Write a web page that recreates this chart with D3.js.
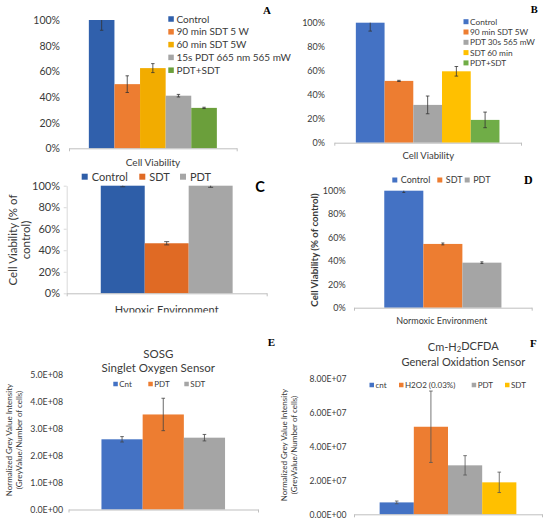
<!DOCTYPE html>
<html><head><meta charset="utf-8">
<script src="https://cdn.jsdelivr.net/npm/d3@7"></script>
<style>body{margin:0;background:#fff} svg{display:block}</style>
</head><body>
<svg id="c" width="550" height="522"></svg>
<script>
// ---------- DATA ----------
const seriesA = ["Control", "90 min SDT 5 W", "60 min SDT 5W", "15s PDT 665 nm 565 mW", "PDT+SDT"];
const valuesA = [100, 50, 62.5, 41, 31.5];
const errorsA = [8, 6.5, 3.5, 1, 0.5];
const ticksA = [0, 20, 40, 60, 80, 100];
const tickLabelsA = ["0%", "20%", "40%", "60%", "80%", "100%"];

const seriesB = ["Control", "90 min SDT 5W", "PDT 30s 565 mW", "SDT 60 min", "PDT+SDT"];
const valuesB = [100, 51.5, 31.5, 59.5, 19];
const errorsB = [7, 0.5, 7.4, 4, 6.5];
const ticksB = [0, 20, 40, 60, 80, 100];
const tickLabelsB = ["0%", "20%", "40%", "60%", "80%", "100%"];

const seriesC = ["Control", "SDT", "PDT"];
const valuesC = [100, 46.5, 100];
const errorsC = [1, 1.5, 1.5];
const ticksC = [0, 20, 40, 60, 80, 100];
const tickLabelsC = ["0%", "20%", "40%", "60%", "80%", "100%"];

const seriesD = ["Control", "SDT", "PDT"];
const valuesD = [100, 54.5, 38.5];
const errorsD = [1.5, 0.8, 0.7];
const ticksD = [0, 20, 40, 60, 80, 100];
const tickLabelsD = ["0%", "20%", "40%", "60%", "80%", "100%"];

const seriesE = ["Cnt", "PDT", "SDT"];
const valuesE = [2.6e8, 3.52e8, 2.66e8];
const errorsE = [0.1e8, 0.6e8, 0.12e8];
const ticksE = [0, 1e8, 2e8, 3e8, 4e8, 5e8];
const tickLabelsE = ["0.0E+00", "1.0E+08", "2.0E+08", "3.0E+08", "4.0E+08", "5.0E+08"];

const seriesF = ["cnt", "H2O2 (0.03%)", "PDT", "SDT"];
const valuesF = [0.7e7, 5.15e7, 2.88e7, 1.88e7];
const errorsF = [0.08e7, 2.1e7, 0.57e7, 0.6e7];
const ticksF = [0, 2e7, 4e7, 6e7, 8e7];
const tickLabelsF = ["0.00E+00", "2.00E+07", "4.00E+07", "6.00E+07", "8.00E+07"];

// ---------- STYLE / LAYOUT ----------
const FONT = "Lato, 'Open Sans', sans-serif";
const SERIF = "'Liberation Serif', 'DejaVu Serif', serif";
const TXT = "#3a3a3a";

const panels = [
  { series: seriesA, values: valuesA, errors: errorsA, ticks: ticksA, tickLabels: tickLabelsA, ymax: 100,
    colors: ["#3060AC", "#ED7D31", "#F2AC00", "#A5A5A5", "#6B9F3B"],
    ax0: 69, ax1: 236.7, base: 148.3, top: 20, gap: 1.55, labelRight: 60, tickFont: 10.5,
    errColor: "#333", capW: 3.4,
    legend: { type: "v", sqX: 168.3, size: 5.5, textX: 176.5, y0: 19, dy: 12.8, font: 10 },
    cat: { text: "Cell Viability", x: 153, y: 162, font: 10 },
    letter: { text: "A", x: 267, y: 10.5, font: 11, serif: true } },
  { series: seriesB, values: valuesB, errors: errorsB, ticks: ticksB, tickLabels: tickLabelsB, ymax: 100,
    colors: ["#4472C4", "#ED7D31", "#A5A5A5", "#FFC000", "#70AD47"],
    ax0: 334.3, ax1: 521, base: 142.7, top: 22.7, gap: 1.5, labelRight: 325, tickFont: 9,
    errColor: "#333", capW: 3.6,
    legend: { type: "v", sqX: 463.5, size: 5, textX: 470, y0: 21.7, dy: 10.3, font: 8.3 },
    cat: { text: "Cell Viability", x: 428.3, y: 155.7, font: 9.5 },
    letter: { text: "B", x: 534.3, y: 9.8, font: 10.5, serif: true } },
  { series: seriesC, values: valuesC, errors: errorsC, ticks: ticksC, tickLabels: tickLabelsC, ymax: 100,
    colors: ["#2E5EA8", "#E06A24", "#A6A6A6"],
    ax0: 66.7, ax1: 266.7, base: 293.3, top: 185.7, gap: 1.55, labelRight: 60, tickFont: 11,
    errColor: "#333", capW: 5, yAxisLine: true,
    legend: { type: "h", y: 176.7, xs: [81.7, 139.3, 180], size: 6, tOff: 10, font: 11 },
    cat: { text: "Hypoxic Environment", x: 166.7, y: 309.8, font: 11, clipY: 312.5 },
    yTitle: { lines: ["Cell Viability (% of", "control)"], xs: [12.7, 25.5], cy: 240, font: 11.5, bold: false },
    letter: { text: "C", x: 260, y: 187, font: 14.5, serif: false } },
  { series: seriesD, values: valuesD, errors: errorsD, ticks: ticksD, tickLabels: tickLabelsD, ymax: 100,
    colors: ["#4472C4", "#ED7D31", "#A5A5A5"],
    ax0: 354, ax1: 531.7, base: 307.7, top: 190.7, gap: 1.55, labelRight: 345.7, tickFont: 9,
    errColor: "#333", capW: 3,
    legend: { type: "h", y: 180, xs: [392.3, 437.3, 464.7], size: 5, tOff: 8.5, font: 9 },
    cat: { text: "Normoxic Environment", x: 441.7, y: 321, font: 9 },
    yTitle: { lines: ["Cell Viability (% of control)"], xs: [315], cy: 250, font: 9.7, bold: true },
    letter: { text: "D", x: 528.3, y: 179.5, font: 12, serif: true } },
  { series: seriesE, values: valuesE, errors: errorsE, ticks: ticksE, tickLabels: tickLabelsE, ymax: 5e8,
    colors: ["#4472C4", "#ED7D31", "#A5A5A5"],
    ax0: 68.5, ax1: 258, base: 509.5, top: 374.5, gap: 1.6, labelRight: 63, tickFont: 8.8,
    errColor: "#444", capW: 3.6,
    legend: { type: "h", y: 384, xs: [113.3, 148.3, 184.3], size: 4.5, tOff: 6, font: 8 },
    title: { lines: ["SOSG", "Singlet Oxygen Sensor"], x: 158.3, ys: [354, 368.3], font: 11.5 },
    yTitle: { lines: ["Normalized Grey Value Intensity", "(GreyValue/Number of cells)"], xs: [9.5, 19.5], cy: 440, font: 8, bold: false },
    letter: { text: "E", x: 271.5, y: 342, font: 11, serif: true } },
  { series: seriesF, values: valuesF, errors: errorsF, ticks: ticksF, tickLabels: tickLabelsF, ymax: 8e7,
    colors: ["#4472C4", "#ED7D31", "#A5A5A5", "#FFC000"],
    ax0: 354, ax1: 542, base: 514.3, top: 378.3, gap: 1.5, labelRight: 346.5, tickFont: 8.6,
    errColor: "#555", capW: 3.6,
    legend: { type: "h", y: 385, xs: [369.5, 399, 471.7, 505], size: 4.5, tOff: 6, font: 8 },
    title: { lines: ["Cm-H|2|DCFDA", "General Oxidation Sensor"], x: 463.3, ys: [346.7, 361.7], font: 11 },
    yTitle: { lines: ["Normalized Grey Value Intensity", "(GreyValue/Number of cells)"], xs: [284.5, 294.5], cy: 445, font: 8, bold: false },
    letter: { text: "F", x: 533.3, y: 343.5, font: 11, serif: true } }
];

const svg = d3.select("#c");
svg.append("rect").attr("width", 550).attr("height", 522).attr("fill", "#fff");
const defs = svg.append("defs");

panels.forEach((p, i) => {
  const g = svg.append("g");
  const n = p.series.length;
  const w = (p.ax1 - p.ax0) / (n + p.gap);
  const gs = p.ax0 + p.gap * w / 2;
  const x = d3.scaleBand().domain(p.series).range([gs, gs + n * w]).paddingInner(0);
  const y = d3.scaleLinear().domain([0, p.ymax]).range([p.base, p.top]);
  const color = d3.scaleOrdinal().domain(p.series).range(p.colors);

  // y axis labels
  const yAxis = d3.axisLeft(y).tickValues(p.ticks)
    .tickFormat((d, k) => p.tickLabels[k]).tickSize(0).tickPadding(0);
  const ya = g.append("g").attr("transform", `translate(${p.labelRight},0)`).call(yAxis);
  ya.select(".domain").remove();
  ya.selectAll("text").attr("font-family", FONT).attr("font-size", p.tickFont).attr("fill", TXT);

  if (p.yAxisLine) {
    const yl = g.append("g").attr("transform", `translate(${p.ax0},0)`)
      .call(d3.axisLeft(y).tickValues(p.ticks).tickFormat("").tickSize(3).tickSizeOuter(0));
    yl.selectAll("path,line").attr("stroke", "#D9D9D9");
  }

  // bars
  g.selectAll("rect.bar").data(p.series).join("rect").attr("class", "bar")
    .attr("x", d => x(d)).attr("width", x.bandwidth())
    .attr("y", (d, k) => y(p.values[k]))
    .attr("height", (d, k) => p.base - y(p.values[k]))
    .attr("fill", d => color(d));

  // baseline axis
  const xa = g.append("g").attr("transform", `translate(0,${p.base})`)
    .call(d3.axisBottom(d3.scaleLinear().domain([0, 1]).range([p.ax0, p.ax1]))
      .tickValues([0, 1]).tickFormat("").tickSize(3).tickSizeOuter(0));
  xa.selectAll("path,line").attr("stroke", "#BFBFBF");

  // error bars (clipped at the plot top like the original)
  const eg = g.append("g").attr("stroke", p.errColor).attr("stroke-width", 0.8);
  p.series.forEach((s, k) => {
    const cx = x(s) + x.bandwidth() / 2;
    const hi = p.values[k] + p.errors[k];
    const clipped = hi > p.ymax;
    const y1 = y(Math.min(hi, p.ymax)), y2 = y(p.values[k] - p.errors[k]);
    eg.append("line").attr("x1", cx).attr("x2", cx).attr("y1", y1).attr("y2", y2);
    if (!clipped) eg.append("line").attr("x1", cx - p.capW / 2).attr("x2", cx + p.capW / 2).attr("y1", y1).attr("y2", y1);
    eg.append("line").attr("x1", cx - p.capW / 2).attr("x2", cx + p.capW / 2).attr("y1", y2).attr("y2", y2);
  });

  // legend
  const L = p.legend;
  const lg = g.append("g");
  p.series.forEach((s, k) => {
    let sx, sy, tx;
    if (L.type === "v") { sx = L.sqX; sy = L.y0 + k * L.dy; tx = L.textX; }
    else { sx = L.xs[k]; sy = L.y; tx = L.xs[k] + L.tOff; }
    lg.append("rect").attr("x", sx).attr("y", sy - L.size / 2).attr("width", L.size).attr("height", L.size).attr("fill", color(s));
    lg.append("text").attr("x", tx).attr("y", sy).attr("dy", "0.35em")
      .attr("font-family", FONT).attr("font-size", L.font).attr("fill", TXT).text(s);
  });

  // category label
  if (p.cat) {
    const t = g.append("text").attr("x", p.cat.x).attr("y", p.cat.y).attr("dy", "0.35em")
      .attr("text-anchor", "middle").attr("font-family", FONT).attr("font-size", p.cat.font)
      .attr("fill", TXT).text(p.cat.text);
    if (p.cat.clipY) {
      const id = "clip" + i;
      defs.append("clipPath").attr("id", id).append("rect")
        .attr("x", 0).attr("y", 0).attr("width", 275).attr("height", p.cat.clipY);
      t.attr("clip-path", `url(#${id})`);
    }
  }

  // y title
  if (p.yTitle) {
    p.yTitle.lines.forEach((ln, k) => {
      g.append("text").attr("transform", `translate(${p.yTitle.xs[k]},${p.yTitle.cy}) rotate(-90)`)
        .attr("dy", "0.35em").attr("text-anchor", "middle").attr("font-family", FONT)
        .attr("font-size", p.yTitle.font).attr("font-weight", p.yTitle.bold ? "bold" : "normal")
        .attr("fill", TXT).text(ln);
    });
  }

  // chart title
  if (p.title) {
    p.title.lines.forEach((ln, k) => {
      const t = g.append("text").attr("x", p.title.x).attr("y", p.title.ys[k]).attr("dy", "0.35em")
        .attr("text-anchor", "middle").attr("font-family", FONT).attr("font-size", p.title.font).attr("fill", TXT);
      const parts = ln.split("|");
      parts.forEach((pt, j) => {
        const ts = t.append("tspan").text(pt);
        if (j === 1) ts.attr("font-size", p.title.font * 0.7).attr("dy", "0.25em");
        if (j === 2) ts.attr("dy", "-0.18em");
      });
    });
  }

  // panel letter
  g.append("text").attr("x", p.letter.x).attr("y", p.letter.y).attr("dy", "0.35em")
    .attr("text-anchor", "middle").attr("font-family", p.letter.serif ? SERIF : FONT)
    .attr("font-weight", "bold").attr("font-size", p.letter.font).attr("fill", "#000").text(p.letter.text);
});
</script>
</body></html>
